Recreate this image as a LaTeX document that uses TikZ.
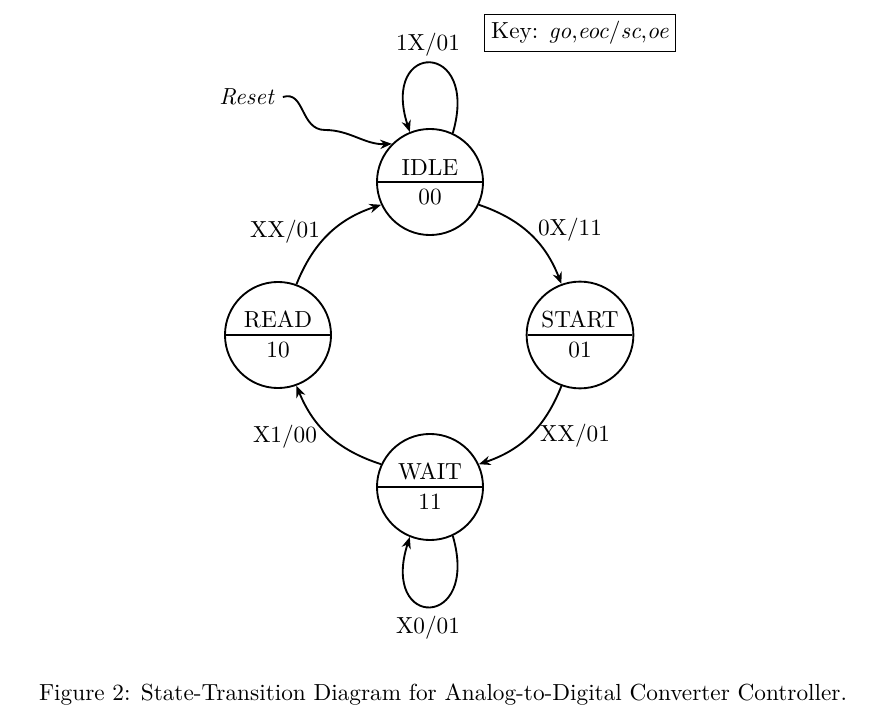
\documentclass[tikz,border=0pt]{standalone}
\usetikzlibrary{shapes.multipart,arrows.meta}
\begin{document}
\begin{tikzpicture}[x=0.43pt,y=-0.43pt,
  st/.style={circle split,draw,thick,minimum size=45.6pt,inner sep=2.5pt},
  tr/.style={thick,-{Stealth[length=5pt,width=4pt]}},
  lb/.style={}]
\useasboundingbox (0,0) rectangle (885,723);
\node[st] (idle) at (430,182) {IDLE\nodepart{lower}00};
\node[st] (start) at (580,335) {START\nodepart{lower}01};
\node[st] (read) at (278,335) {READ\nodepart{lower}10};
\node[st] (wait) at (430,487) {WAIT\nodepart{lower}11};
\node[draw,lb,inner sep=3pt] (key) at (580,33) {Key: \textit{go},\textit{eoc}/\textit{sc},\textit{oe}};
\node[lb] (reset) at (247,97) {\textit{Reset}};
\node[lb] (l1) at (428,45) {1X/01};
\node[lb] (l2) at (570,230) {0X/11};
\node[lb] (l3) at (575,436) {XX/01};
\node[lb] (l4) at (285,437) {X1/00};
\node[lb] (l5) at (285,232) {XX/01};
\node[lb] (l6) at (428,628) {X0/01};
\draw[tr] (reset.east) .. controls (305,90) and (300,130) .. (325,130) .. controls (350,130) and (365,145) .. (idle.135);
\draw[tr] (idle.65) .. controls (480,40) and (380,40) .. (idle.112);
\draw[tr] (wait.-65) .. controls (480,630) and (380,630) .. (wait.-112);
\draw[tr] (idle.-25) to[bend left=25] (start.110);
\draw[tr] (start.-110) to[bend left=25] (wait.25);
\draw[tr] (wait.155) to[bend left=25] (read.-70);
\draw[tr] (read.70) to[bend left=25] (idle.205);
\node[lb] (cap) at (443,695) {Figure 2: State-Transition Diagram for Analog-to-Digital Converter Controller.};
\end{tikzpicture}
\end{document}
